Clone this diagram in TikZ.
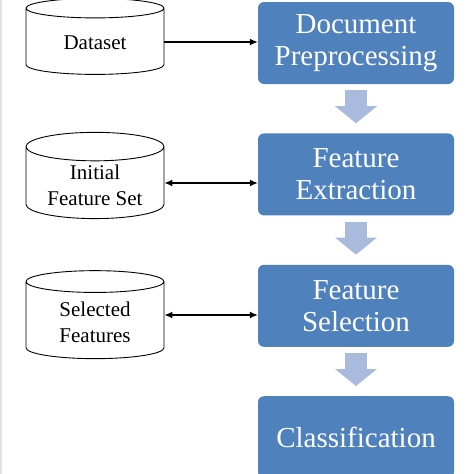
\documentclass[tikz,border=0pt]{standalone}
\usepackage{fontspec}
\setmainfont{Liberation Serif}
\usetikzlibrary{arrows.meta,positioning,shapes.geometric}
\definecolor{stageBlue}{HTML}{4F81BD}
\definecolor{flowBlue}{HTML}{A8BBDC}
\definecolor{edgeGrey}{HTML}{E4E4E4}

\begin{document}
\begin{tikzpicture}[x=1pt,y=-1pt,
  node distance=49pt and 93pt,
  stage/.style={rounded corners=6pt,fill=stageBlue,text=white,minimum width=196pt,minimum height=82pt,align=center,font=\fontsize{29}{32}\selectfont},
  store/.style={draw,line width=0.9pt,cylinder,shape border rotate=90,aspect=0.28,minimum width=138pt,align=center,font=\fontsize{21}{26}\selectfont},
  link/.style={{Latex[length=8pt,width=7pt]}-{Latex[length=8pt,width=7pt]},line width=1.2pt},
  feed/.style={-{Latex[length=8pt,width=7pt]},line width=1.2pt},
  flow/.style={-{Triangle[width=42pt,length=17pt,line width=0pt]},line width=22pt,flowBlue,shorten <=6pt,shorten >=10pt}]
  \useasboundingbox (0,0) rectangle (474,474);
  \fill[edgeGrey] (0,0) rectangle (2,474);
  % pipeline
  \node[stage] (prep) at (356,43) {Document\\Preprocessing};
  \node[stage,below=of prep] (extr) {Feature\\Extraction};
  \node[stage,below=of extr] (sel) {Feature\\Selection};
  \node[stage,below=of sel] (cls) {Classification};
  % stores
  \node[store,minimum height=76pt] (data) at (95,43) {Dataset};
  \node[store,minimum height=86pt] (initset) at (95,185) {Initial\\Feature Set};
  \node[store,minimum height=88pt] (selset) at (95,322) {Selected\\Features};
  \draw[flow] (prep) -- (extr);
  \draw[flow] (extr) -- (sel);
  \draw[flow] (sel) -- (cls);
  \draw[feed] ([yshift=1pt]data.east) -- ([yshift=1pt]data.east -| prep.west);
  \draw[link] ([yshift=2pt]initset.east) -- ([yshift=2pt]initset.east -| extr.west);
  \draw[link] ([yshift=7pt]selset.east) -- ([yshift=7pt]selset.east -| sel.west);
\end{tikzpicture}
\end{document}
